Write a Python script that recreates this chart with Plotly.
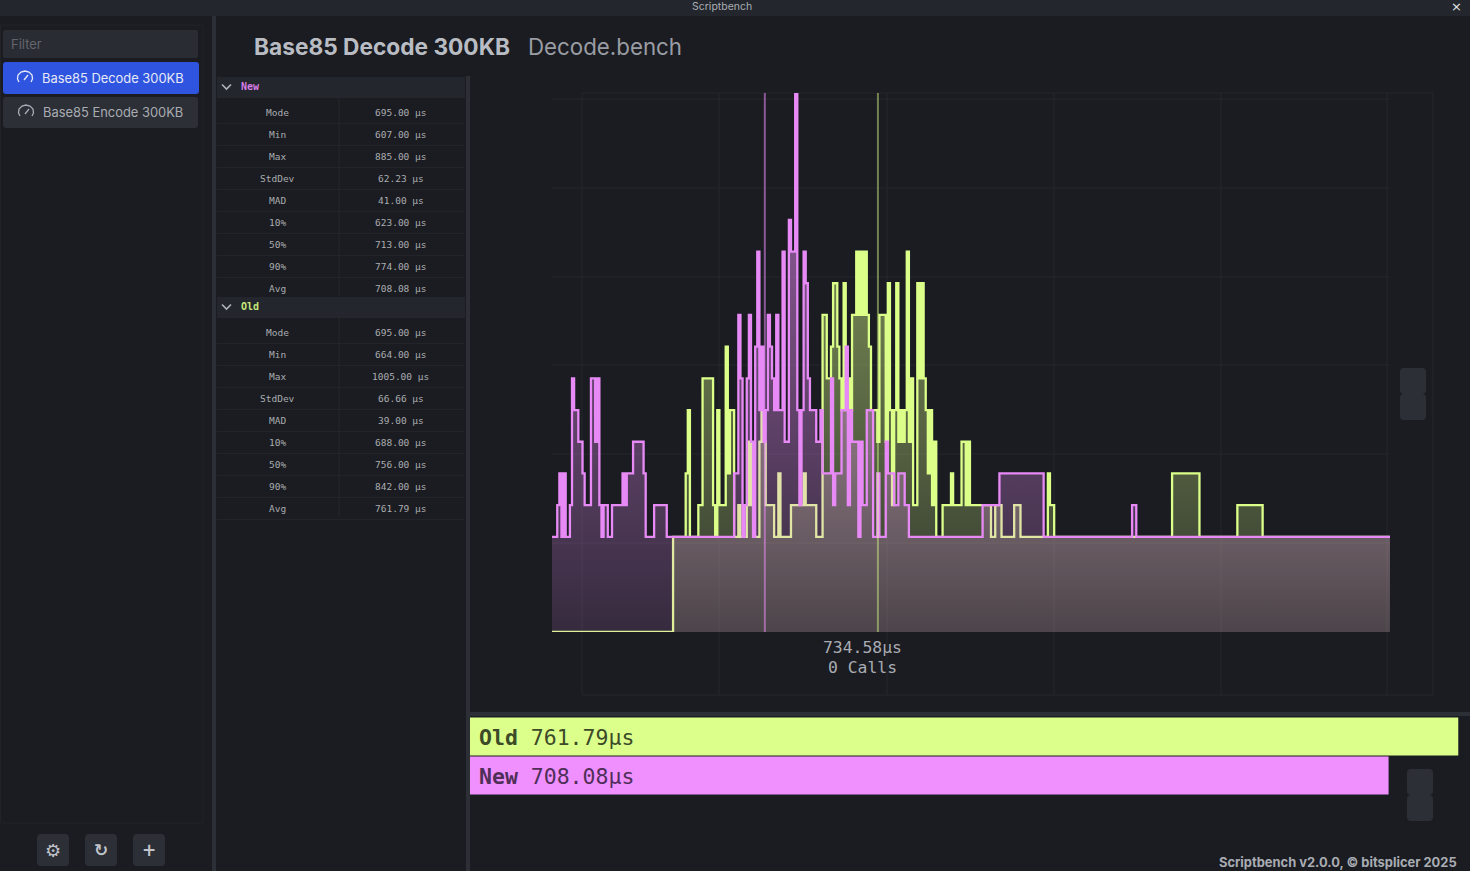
import plotly.graph_objects as go

# ---------- data ----------
t_start = 607
new_levels = [
 0,0,0,1,2,0,2,0,0,1, 5,4,4,3,3,2,1,1,1,5, 5,3,5,1,0,1,1,0,0,1, 1,1,1,1,2,1,2,2,2,3,
 3,3,3,3,2,0,0,0,0,1, 1,1,1,1,1,0,0,0,0,0, 0,0,0,0,0,0,0,0,0,0, 0,0,0,0,0,0,0,0,0,0,
 0,0,0,0,0,0,0,2,2,7, 5,0,1,5,7,3,0,6,9,4, 6,3,4,7,6,5,4,7,4,4, 9,3,3,10,9,9,14,4,1,4,
 9,8,5,4,4,4,3,3,4,2, 2,2,2,5,1,2,2,2,4,4, 6,1,4,3,3,3,0,3,1,1, 4,4,4,0,0,2,0,0,0,3,
 2,2,2,1,1,2,2,2,1,1, 0,0,0,0,0,0,0,0,0,0, 0,0,0,0,0,0,0,0,0,0, 0,0,0,0,0,0,0,0,0,0,
 0,0,0,0,0,1,1,1,1,1, 1,1,1,2,2,2,2,2,2,2, 2,2,2,2,2,2,2,2,2,2, 2,2,2,2,0,0,0,0,0,0,
 0,0,0,0,0,0,0,0,0,0, 0,0,0,0,0,0,0,0,0,0, 0,0,0,0,0,0,0,0,0,0, 0,0,0,0,0,0,1,1,0,0,
 0,0,0,0,0,0,0,0,0,0, 0,0,0,0,0,0,0,0,0,0, 0,0,0,0,0,0,0,0,0,0, 0,0,0,0,0,0,0,0,0,0,
 0,0,0,0,0,0,0,0,0,0, 0,0,0,0,0,0,0,0,0,0, 0,0,0,0,0,0,0,0,0,0, 0,0,0,0,0,0,0,0,0,0,
 0,0,0,0,0,0,0,0,0,0, 0,0,0,0,0,0,0,0,0,0, 0,0,0,0,0,0,0,0,0,0, 0,0,0,0,0,0,0,0,0]
old_levels = [
 -3,-3,-3,-3,-3,-3,-3,-3,-3,-3, -3,-3,-3,-3,-3,-3,-3,-3,-3,-3, -3,-3,-3,-3,-3,-3,-3,-3,-3,-3,
 -3,-3,-3,-3,-3,-3,-3,-3,-3,-3, -3,-3,-3,-3,-3,-3,-3,-3,-3,-3, -3,-3,-3,-3,-3,-3,-3,-3,0,0,
 0,0,0,0,2,4,0,0,0,0, 1,1,5,5,5,5,5,1,0,4, 1,1,1,6,2,4,4,0,0,1, 0,0,0,1,3,1,0,0,0,3,
 4,3,1,1,1,1,0,0,2,0, 0,0,0,0,1,1,1,1,1,1, 2,1,1,1,1,1,0,0,0,7, 7,5,5,6,8,8,6,5,4,8,
 4,5,4,7,7,9,7,9,7,9, 7,6,4,4,4,3,7,7,7,3, 8,4,1,4,8,3,4,3,4,9, 3,5,1,1,8,5,8,5,4,2,
 4,1,3,0,0,0,1,1,1,1, 2,1,1,1,1,3,3,1,3,1, 1,1,1,1,1,1,1,1,1,0, 0,1,1,1,0,0,0,0,0,0,
 1,1,1,0,0,0,0,0,0,0, 0,0,0,0,0,0,2,1,1,0, 0,0,0,0,0,0,0,0,0,0, 0,0,0,0,0,0,0,0,0,0,
 0,0,0,0,0,0,0,0,0,0, 0,0,0,0,0,0,0,0,0,0, 0,0,0,0,0,0,0,0,0,0, 0,0,0,0,0,2,2,2,2,2,
 2,2,2,2,2,2,2,2,0,0, 0,0,0,0,0,0,0,0,0,0, 0,0,0,0,0,0,1,1,1,1, 1,1,1,1,1,1,1,1,0,0,
 0,0,0,0,0,0,0,0,0,0, 0,0,0,0,0,0,0,0,0,0, 0,0,0,0,0,0,0,0,0,0, 0,0,0,0,0,0,0,0,0,0,
 0,0,0,0,0,0,0,0,0,0, 0,0,0,0,0,0,0,0,0]
assert len(new_levels) == 399 and len(old_levels) == 399
level_offset = 3
avg_new, avg_old = 708.08, 761.79
stat_labels = ["Mode", "Min", "Max", "StdDev", "MAD", "10%", "50%", "90%", "Avg"]
new_stats = ["695.00 µs", "607.00 µs", "885.00 µs", "62.23 µs", "41.00 µs", "623.00 µs", "713.00 µs", "774.00 µs", "708.08 µs"]
old_stats = ["695.00 µs", "664.00 µs", "1005.00 µs", "66.66 µs", "39.00 µs", "688.00 µs", "756.00 µs", "842.00 µs", "761.79 µs"]
bench_names = ["Base85 Decode 300KB", "Base85 Encode 300KB"]

# ---------- style ----------
W, H = 1470, 871
BG = "#1a1c21"; BAR = "#23262c"; PANEL = "#2c2f36"; GRID = "#25272c"
PINK = "#e88af6"; GREEN = "#dcff8a"
SANS = "Inter"; MONO = "DejaVu Sans Mono"

def fx(x): return x / W
def fy(y): return 1 - y / H

shapes, notes = [], []
def rect(x0, y0, x1, y1, fill=None, line=None, lw=1, layer="below", radius=0):
    if radius:
        r = radius
        p = (f"M{fx(x0+r)},{fy(y0)} L{fx(x1-r)},{fy(y0)} Q{fx(x1)},{fy(y0)} {fx(x1)},{fy(y0+r)} "
             f"L{fx(x1)},{fy(y1-r)} Q{fx(x1)},{fy(y1)} {fx(x1-r)},{fy(y1)} L{fx(x0+r)},{fy(y1)} "
             f"Q{fx(x0)},{fy(y1)} {fx(x0)},{fy(y1-r)} L{fx(x0)},{fy(y0+r)} Q{fx(x0)},{fy(y0)} {fx(x0+r)},{fy(y0)} Z")
        shapes.append(dict(type="path", path=p, xref="paper", yref="paper", fillcolor=fill or "rgba(0,0,0,0)",
                           line=dict(width=lw if line else 0, color=line or "rgba(0,0,0,0)"), layer=layer))
    else:
        shapes.append(dict(type="rect", xref="paper", yref="paper", x0=fx(x0), x1=fx(x1), y0=fy(y0), y1=fy(y1),
                           fillcolor=fill or "rgba(0,0,0,0)",
                           line=dict(width=lw if line else 0, color=line or "rgba(0,0,0,0)"), layer=layer))
def hline(x0, x1, y, c=GRID, w=1):
    shapes.append(dict(type="line", xref="paper", yref="paper", x0=fx(x0), x1=fx(x1), y0=fy(y), y1=fy(y),
                       line=dict(color=c, width=w), layer="below"))
def vline(x, y0, y1, c=GRID, w=1):
    shapes.append(dict(type="line", xref="paper", yref="paper", x0=fx(x), x1=fx(x), y0=fy(y0), y1=fy(y1),
                       line=dict(color=c, width=w), layer="below"))
def poly(pts, c, w=1.5):
    p = "M" + " L".join(f"{fx(x)},{fy(y)}" for x, y in pts)
    shapes.append(dict(type="path", path=p, xref="paper", yref="paper", line=dict(color=c, width=w), layer="above"))
def text(x, y, s, size, color, font=SANS, anchor="center"):
    notes.append(dict(x=fx(x), y=fy(y), xref="paper", yref="paper", text=s, showarrow=False, xanchor=anchor,
                      yanchor="middle", font=dict(family=font, size=size, color=color), borderpad=0, borderwidth=0))

# window chrome
rect(0, 0, W, 16, BAR)
text(722, 7, "Scriptbench", 10.5, "#a9acb3")
text(1456, 7, "×", 13, "#e4e6ea", "DejaVu Sans")
rect(212, 16, 216, H, PANEL)
rect(466, 76, 470, H, PANEL)
rect(470, 712, W, 716, PANEL)

# sidebar
rect(0.5, 25, 203, 823, None, "#212329")
rect(3, 30, 198, 58, "#2a2c33", radius=2)
text(11, 44, "Filter", 13, "#62656c", anchor="left")
rect(3, 62, 199, 94, "#2f55e0", radius=3)
rect(3, 97, 198, 128, PANEL, radius=3)
text(42, 78, bench_names[0], 12.9, "#e6e9f5", anchor="left")
text(43, 112.5, bench_names[1], 12.9, "#a9acb3", anchor="left")
for cy, cx, col in [(78, 25, "#e6e9f5"), (112, 26, "#a9acb3")]:
    poly([(cx-6, cy+4), (cx-7.5, cy+1), (cx-7, cy-3), (cx-4, cy-6), (cx, cy-7), (cx+4, cy-6),
          (cx+7, cy-3), (cx+7.5, cy+1), (cx+6, cy+4)], col, 1.3)
    poly([(cx-1, cy+2), (cx+3, cy-3)], col, 1.3)
for bx, glyph, sz in [(37, "<b>⚙</b>", 18), (85, "<b>↻</b>", 17), (133, "<b>+</b>", 17)]:
    rect(bx, 834, bx+32, 866, PANEL, radius=4)
    text(bx+16, 850, glyph, sz, "#c0c3ca", "DejaVu Sans")

# title
text(254, 47, "<b>Base85 Decode 300KB</b>", 22.7, "#b9bcc3", anchor="left")
text(528, 47, "Decode.bench", 22.3, "#9a9da4", anchor="left")

# stats tables
def table(head_y, name, color, values):
    rect(217, head_y-10, 465, head_y+11, BAR)
    poly([(222, head_y-2.5), (226.5, head_y+2), (231, head_y-2.5)], "#b0b3ba", 1.6)
    text(241, head_y, f"<b>{name}</b>", 10, color, MONO, "left")
    for i, (lab, val) in enumerate(zip(stat_labels, values)):
        y = head_y + 25.6 + 22*i
        text(277.5, y, lab, 9.5, "#aaacb0", MONO)
        text(400.5, y, val, 9.5, "#aaacb0", MONO)
        hline(217, 465, y+11, "#24262b")
    vline(339, head_y+11, head_y+11+22*len(values), "#24262b")
table(87, "New", "#d77ce6", new_stats)
table(307, "Old", "#c7e67a", old_stats)

# chart grid
rect(582, 93, 1433, 695, None, GRID)
for v in [719, 887, 1054, 1221, 1387]:
    vline(v, 93, 695)
for h in [99, 188, 277, 365, 454, 543]:
    hline(552, 1390, h)
for by in [368, 394]:
    rect(1400, by, 1426, by+26, PANEL, radius=4)
for by in [769, 795]:
    rect(1407, by, 1433, by+26, PANEL, radius=4)

# axis captions, bar labels, footer
text(862, 647, "734.58µs", 16.4, "#a9acb3", MONO)
text(862, 667, "0 Calls", 16.4, "#a9acb3", MONO)
text(479, 737, f"<b>Old</b> {avg_old}µs", 21.5, "#3d4a28", MONO, "left")
text(479, 776, f"<b>New</b> {avg_new}µs", 21.5, "#4f2f57", MONO, "left")
text(1457, 862, "<b>Scriptbench v2.0.0, © bitsplicer 2025</b>", 12.9, "#a9acb3", SANS, "right")

# ---------- traces ----------
times = [t_start + i for i in range(len(new_levels))]
def rgba(rgb, a): return f"rgba({rgb},{a})"
def hist(levels, name, color, rgb):
    return go.Scatter(x=times, y=[v + level_offset for v in levels], name=name, mode="lines",
                      line=dict(color=color, width=2.3, shape="hvh"), cliponaxis=False,
                      fill="tozeroy",
                      fillgradient=dict(type="vertical", start=0, stop=17,
                                        colorscale=[[0, rgba(rgb, 0.13)], [1, rgba(rgb, 0.62)]]),
                      hoverinfo="skip", showlegend=False)

fig = go.Figure()
fig.add_trace(hist(old_levels, "Old", GREEN, "220,255,138"))
fig.add_trace(hist(new_levels, "New", PINK, "240,144,255"))
for avg, col in [(avg_new, "rgba(232,138,246,0.55)"), (avg_old, "rgba(220,255,138,0.45)")]:
    fig.add_trace(go.Scatter(x=[avg, avg], y=[0, 17], mode="lines", line=dict(color=col, width=2),
                             hoverinfo="skip", showlegend=False))
fig.add_trace(go.Bar(y=["New", "Old"], x=[avg_new, avg_old], orientation="h", xaxis="x2", yaxis="y2",
                     marker=dict(color=["#f090ff", "#dcff8c"], line=dict(width=0)), hoverinfo="skip", showlegend=False))

fig.update_layout(
    width=W, height=H, autosize=False, margin=dict(l=0, r=0, t=0, b=0),
    paper_bgcolor=BG, plot_bgcolor="rgba(0,0,0,0)", bargap=0.026,
    xaxis=dict(domain=[fx(552), fx(1390)], range=[607, 1005], visible=False, fixedrange=True),
    yaxis=dict(domain=[fy(632), fy(93)], range=[0, 17], visible=False, fixedrange=True),
    xaxis2=dict(domain=[fx(470), 1], range=[0, 1000/1.2973], visible=False, anchor="y2", fixedrange=True),
    yaxis2=dict(domain=[fy(795), fy(717)], visible=False, anchor="x2", fixedrange=True,
                categoryorder="array", categoryarray=["New", "Old"]),
    shapes=shapes, annotations=notes,
)
fig.write_html("out.html", config=dict(displayModeBar=False),
               post_script="document.body.style.margin='0';document.body.style.background='#1a1c21';document.body.style.overflow='hidden';")
